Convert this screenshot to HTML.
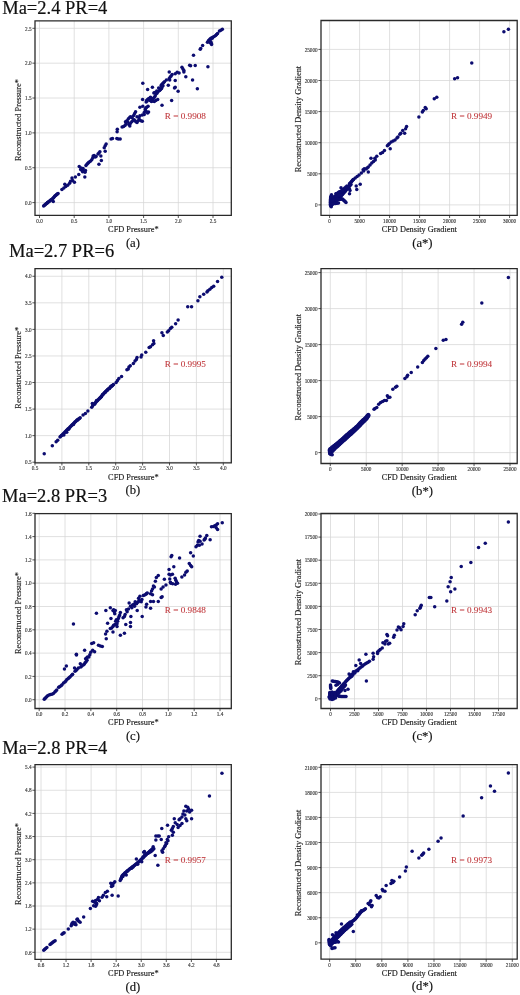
<!DOCTYPE html>
<html><head><meta charset="utf-8"><title>Reconstruction scatter plots</title>
<style>
html,body{margin:0;padding:0;background:#fff;}
body{width:520px;height:995px;overflow:hidden;}
svg{display:block;}
text{font-family:"Liberation Serif", "Times New Roman", serif;}
.tk{font-size:5.2px;fill:#333;stroke:#333;stroke-width:0.14px;}
.al{font-size:8.3px;fill:#222;stroke:#222;stroke-width:0.15px;}
.sl{font-size:12.7px;fill:#111;stroke:#111;stroke-width:0.15px;}
.rl{font-size:9.2px;fill:#c0383c;stroke:#c0383c;stroke-width:0.08px;}
.tt{font-size:18.5px;fill:#111;stroke:#111;stroke-width:0.2px;}
</style></head><body>
<svg width="520" height="995" viewBox="0 0 520 995"><rect width="520" height="995" fill="#fff"/><path d="M39.5 20.8V215.4M74.2 20.8V215.4M108.9 20.8V215.4M143.6 20.8V215.4M178.3 20.8V215.4M213 20.8V215.4M35 202.6H231.3M35 167.74H231.3M35 132.88H231.3M35 98.02H231.3M35 63.16H231.3M35 28.3H231.3M35 268.7V462.8M61.9 268.7V462.8M88.8 268.7V462.8M115.7 268.7V462.8M142.6 268.7V462.8M169.5 268.7V462.8M196.4 268.7V462.8M223.3 268.7V462.8M35 462.2H231.3M35 435.64H231.3M35 409.08H231.3M35 382.52H231.3M35 355.96H231.3M35 329.4H231.3M35 302.84H231.3M35 276.28H231.3M39.2 513.7V708.5M65.03 513.7V708.5M90.86 513.7V708.5M116.69 513.7V708.5M142.52 513.7V708.5M168.35 513.7V708.5M194.18 513.7V708.5M220.01 513.7V708.5M35 699.7H231.3M35 676.4H231.3M35 653.1H231.3M35 629.8H231.3M35 606.5H231.3M35 583.2H231.3M35 559.9H231.3M35 536.6H231.3M35 513.3H231.3M41 764.6V959.4M66.06 764.6V959.4M91.12 764.6V959.4M116.18 764.6V959.4M141.24 764.6V959.4M166.3 764.6V959.4M191.36 764.6V959.4M216.42 764.6V959.4M35 952.3H231.3M35 929.15H231.3M35 906H231.3M35 882.85H231.3M35 859.7H231.3M35 836.55H231.3M35 813.4H231.3M35 790.25H231.3M35 767.1H231.3M329.6 20.5V215.4M359.6 20.5V215.4M389.6 20.5V215.4M419.6 20.5V215.4M449.6 20.5V215.4M479.6 20.5V215.4M509.6 20.5V215.4M321 204.9H517.2M321 173.8H517.2M321 142.7H517.2M321 111.6H517.2M321 80.5H517.2M321 49.4H517.2M330.3 268.7V463.5M366.24 268.7V463.5M402.18 268.7V463.5M438.12 268.7V463.5M474.06 268.7V463.5M510 268.7V463.5M321 452.6H517.2M321 416.6H517.2M321 380.6H517.2M321 344.6H517.2M321 308.6H517.2M321 272.6H517.2M330.5 513.5V708.5M354.5 513.5V708.5M378.5 513.5V708.5M402.5 513.5V708.5M426.5 513.5V708.5M450.5 513.5V708.5M474.5 513.5V708.5M498.5 513.5V708.5M321 698.8H517.2M321 675.7H517.2M321 652.6H517.2M321 629.5H517.2M321 606.4H517.2M321 583.3H517.2M321 560.2H517.2M321 537.1H517.2M321 514H517.2M329.6 764.6V959.2M355.7 764.6V959.2M381.8 764.6V959.2M407.9 764.6V959.2M434 764.6V959.2M460.1 764.6V959.2M486.2 764.6V959.2M512.3 764.6V959.2M321 942.8H517.2M321 917.73H517.2M321 892.66H517.2M321 867.59H517.2M321 842.52H517.2M321 817.45H517.2M321 792.38H517.2M321 767.31H517.2" stroke="#d6d6d6" stroke-width="0.75" fill="none"/><g fill="#0c0c70"><circle cx="53.27" cy="201.54" r="1.75"/><circle cx="47.5" cy="202.5" r="1.75"/><circle cx="61.92" cy="189.62" r="1.75"/><circle cx="63.85" cy="188.08" r="1.75"/><circle cx="65.77" cy="186.54" r="1.75"/><circle cx="64.81" cy="184.23" r="1.75"/><circle cx="67.69" cy="185.19" r="1.75"/><circle cx="69.62" cy="183.27" r="1.75"/><circle cx="70.58" cy="181.35" r="1.75"/><circle cx="72.5" cy="180.38" r="1.75"/><circle cx="74.42" cy="182.31" r="1.75"/><circle cx="43.65" cy="205.96" r="1.75"/><circle cx="44.38" cy="205.34" r="1.75"/><circle cx="45.1" cy="204.71" r="1.75"/><circle cx="45.82" cy="204.09" r="1.75"/><circle cx="46.54" cy="203.46" r="1.75"/><circle cx="47.26" cy="202.88" r="1.75"/><circle cx="47.98" cy="202.31" r="1.75"/><circle cx="48.7" cy="201.73" r="1.75"/><circle cx="49.42" cy="201.15" r="1.75"/><circle cx="50.14" cy="200.62" r="1.75"/><circle cx="50.87" cy="200.1" r="1.75"/><circle cx="51.59" cy="199.57" r="1.75"/><circle cx="52.31" cy="199.04" r="1.75"/><circle cx="53.03" cy="198.22" r="1.75"/><circle cx="53.75" cy="197.4" r="1.75"/><circle cx="54.47" cy="196.59" r="1.75"/><circle cx="55.19" cy="195.77" r="1.75"/><circle cx="55.91" cy="195.19" r="1.75"/><circle cx="56.63" cy="194.62" r="1.75"/><circle cx="57.36" cy="194.04" r="1.75"/><circle cx="58.08" cy="193.46" r="1.75"/><circle cx="183.88" cy="71.92" r="1.75"/><circle cx="177.15" cy="72.31" r="1.75"/><circle cx="175.23" cy="73.85" r="1.75"/><circle cx="179.08" cy="72.88" r="1.75"/><circle cx="175.23" cy="80.58" r="1.75"/><circle cx="175.23" cy="87.31" r="1.75"/><circle cx="178.12" cy="91.15" r="1.75"/><circle cx="185.81" cy="76.73" r="1.75"/><circle cx="192.54" cy="80" r="1.75"/><circle cx="197.35" cy="88.65" r="1.75"/><circle cx="111.06" cy="138.94" r="1.75"/><circle cx="112.5" cy="138.46" r="1.75"/><circle cx="116.83" cy="138.46" r="1.75"/><circle cx="118.27" cy="138.94" r="1.75"/><circle cx="120.19" cy="138.94" r="1.75"/><circle cx="117.31" cy="129.33" r="1.75"/><circle cx="117.12" cy="131.73" r="1.75"/><circle cx="122.12" cy="126.92" r="1.75"/><circle cx="123.56" cy="126.44" r="1.75"/><circle cx="125" cy="125.48" r="1.75"/><circle cx="125.96" cy="124.04" r="1.75"/><circle cx="125.48" cy="121.63" r="1.75"/><circle cx="126.92" cy="120.67" r="1.75"/><circle cx="127.88" cy="122.12" r="1.75"/><circle cx="128.37" cy="118.75" r="1.75"/><circle cx="129.81" cy="117.31" r="1.75"/><circle cx="130.77" cy="116.83" r="1.75"/><circle cx="132.21" cy="117.79" r="1.75"/><circle cx="128.85" cy="124.52" r="1.75"/><circle cx="129.81" cy="125.96" r="1.75"/><circle cx="130.29" cy="123.56" r="1.75"/><circle cx="131.73" cy="121.63" r="1.75"/><circle cx="133.17" cy="120.19" r="1.75"/><circle cx="134.13" cy="119.71" r="1.75"/><circle cx="134.62" cy="120.67" r="1.75"/><circle cx="136.06" cy="121.63" r="1.75"/><circle cx="137.02" cy="122.6" r="1.75"/><circle cx="137.98" cy="120.67" r="1.75"/><circle cx="139.42" cy="119.71" r="1.75"/><circle cx="140.87" cy="120.67" r="1.75"/><circle cx="142.31" cy="121.15" r="1.75"/><circle cx="138.94" cy="117.79" r="1.75"/><circle cx="139.9" cy="115.87" r="1.75"/><circle cx="133.65" cy="115.38" r="1.75"/><circle cx="137.02" cy="116.83" r="1.75"/><circle cx="169.23" cy="71.92" r="1.75"/><circle cx="172.12" cy="74.62" r="1.75"/><circle cx="171.15" cy="76.06" r="1.75"/><circle cx="170.19" cy="77.02" r="1.75"/><circle cx="169.23" cy="78.46" r="1.75"/><circle cx="169.71" cy="79.9" r="1.75"/><circle cx="166.35" cy="79.9" r="1.75"/><circle cx="168.27" cy="85.19" r="1.75"/><circle cx="164.42" cy="81.83" r="1.75"/><circle cx="163.46" cy="82.79" r="1.75"/><circle cx="162.5" cy="83.75" r="1.75"/><circle cx="161.54" cy="84.71" r="1.75"/><circle cx="161.06" cy="85.67" r="1.75"/><circle cx="162.98" cy="85.67" r="1.75"/><circle cx="162.02" cy="87.12" r="1.75"/><circle cx="161.54" cy="88.56" r="1.75"/><circle cx="160.58" cy="89.52" r="1.75"/><circle cx="159.62" cy="90.48" r="1.75"/><circle cx="158.65" cy="88.08" r="1.75"/><circle cx="158.17" cy="91.44" r="1.75"/><circle cx="157.21" cy="92.88" r="1.75"/><circle cx="156.25" cy="93.85" r="1.75"/><circle cx="156.73" cy="90.96" r="1.75"/><circle cx="154.81" cy="92.4" r="1.75"/><circle cx="153.85" cy="92.88" r="1.75"/><circle cx="155.29" cy="95.77" r="1.75"/><circle cx="154.33" cy="97.21" r="1.75"/><circle cx="153.37" cy="98.17" r="1.75"/><circle cx="152.4" cy="99.13" r="1.75"/><circle cx="151.44" cy="99.62" r="1.75"/><circle cx="150.48" cy="97.21" r="1.75"/><circle cx="149.52" cy="98.17" r="1.75"/><circle cx="148.56" cy="98.65" r="1.75"/><circle cx="147.6" cy="99.62" r="1.75"/><circle cx="146.63" cy="100.58" r="1.75"/><circle cx="146.15" cy="102.02" r="1.75"/><circle cx="147.12" cy="101.06" r="1.75"/><circle cx="152.88" cy="101.06" r="1.75"/><circle cx="154.33" cy="101.54" r="1.75"/><circle cx="155.77" cy="100.58" r="1.75"/><circle cx="157.69" cy="99.62" r="1.75"/><circle cx="151.44" cy="101.54" r="1.75"/><circle cx="150" cy="100.58" r="1.75"/><circle cx="142.79" cy="83.27" r="1.75"/><circle cx="147.6" cy="89.52" r="1.75"/><circle cx="152.4" cy="87.31" r="1.75"/><circle cx="142.6" cy="99.42" r="1.75"/><circle cx="171.63" cy="100.38" r="1.75"/><circle cx="162.02" cy="105.19" r="1.75"/><circle cx="174.52" cy="88.08" r="1.75"/><circle cx="148.08" cy="106.35" r="1.75"/><circle cx="146.63" cy="107.31" r="1.75"/><circle cx="145.67" cy="108.27" r="1.75"/><circle cx="145.19" cy="109.71" r="1.75"/><circle cx="146.15" cy="111.15" r="1.75"/><circle cx="148.56" cy="112.12" r="1.75"/><circle cx="147.6" cy="113.08" r="1.75"/><circle cx="144.23" cy="112.6" r="1.75"/><circle cx="142.79" cy="106.35" r="1.75"/><circle cx="139.9" cy="107.31" r="1.75"/><circle cx="135.58" cy="111.63" r="1.75"/><circle cx="134.62" cy="113.56" r="1.75"/><circle cx="144.23" cy="114.52" r="1.75"/><circle cx="142.31" cy="115" r="1.75"/><circle cx="72.02" cy="178.08" r="1.75"/><circle cx="75.38" cy="176.92" r="1.75"/><circle cx="78.75" cy="174.42" r="1.75"/><circle cx="79.23" cy="166.54" r="1.75"/><circle cx="80.67" cy="169.42" r="1.75"/><circle cx="82.12" cy="170.38" r="1.75"/><circle cx="83.08" cy="168.46" r="1.75"/><circle cx="84.04" cy="171.35" r="1.75"/><circle cx="85" cy="172.31" r="1.75"/><circle cx="85.48" cy="170.38" r="1.75"/><circle cx="84.81" cy="177.12" r="1.75"/><circle cx="85.96" cy="165.58" r="1.75"/><circle cx="86.92" cy="164.13" r="1.75"/><circle cx="87.88" cy="163.17" r="1.75"/><circle cx="88.85" cy="162.21" r="1.75"/><circle cx="90.29" cy="161.25" r="1.75"/><circle cx="91.73" cy="159.81" r="1.75"/><circle cx="92.69" cy="157.88" r="1.75"/><circle cx="93.17" cy="155.96" r="1.75"/><circle cx="94.13" cy="155.48" r="1.75"/><circle cx="95.1" cy="156.92" r="1.75"/><circle cx="96.06" cy="156.44" r="1.75"/><circle cx="97.98" cy="154.04" r="1.75"/><circle cx="98.94" cy="153.08" r="1.75"/><circle cx="99.9" cy="151.63" r="1.75"/><circle cx="100.87" cy="155.96" r="1.75"/><circle cx="101.35" cy="160.58" r="1.75"/><circle cx="98.94" cy="164.13" r="1.75"/><circle cx="104.23" cy="147.79" r="1.75"/><circle cx="105.19" cy="145.87" r="1.75"/><circle cx="106.15" cy="143.94" r="1.75"/><circle cx="105.19" cy="151.15" r="1.75"/><circle cx="81.15" cy="167.98" r="1.75"/><circle cx="82.6" cy="171.83" r="1.75"/><circle cx="222.35" cy="29.17" r="1.75"/><circle cx="220.9" cy="30.13" r="1.75"/><circle cx="219.46" cy="31.1" r="1.75"/><circle cx="217.54" cy="33.5" r="1.75"/><circle cx="216.58" cy="34.46" r="1.75"/><circle cx="215.62" cy="35.42" r="1.75"/><circle cx="214.17" cy="36.38" r="1.75"/><circle cx="212.73" cy="37.35" r="1.75"/><circle cx="211.29" cy="38.12" r="1.75"/><circle cx="210.33" cy="38.79" r="1.75"/><circle cx="209.37" cy="39.75" r="1.75"/><circle cx="208.4" cy="40.71" r="1.75"/><circle cx="207.44" cy="42.15" r="1.75"/><circle cx="209.85" cy="40.71" r="1.75"/><circle cx="210.81" cy="41.67" r="1.75"/><circle cx="211.29" cy="43.31" r="1.75"/><circle cx="211.58" cy="44.56" r="1.75"/><circle cx="210.33" cy="42.63" r="1.75"/><circle cx="212.25" cy="38.31" r="1.75"/><circle cx="208.88" cy="41.67" r="1.75"/><circle cx="202.63" cy="45.52" r="1.75"/><circle cx="200.71" cy="48.4" r="1.75"/><circle cx="200.23" cy="49.37" r="1.75"/><circle cx="193.5" cy="55.13" r="1.75"/><circle cx="189.65" cy="65.23" r="1.75"/><circle cx="190.62" cy="65.71" r="1.75"/><circle cx="195.23" cy="65.52" r="1.75"/><circle cx="207.92" cy="66.67" r="1.75"/><circle cx="181.96" cy="67.15" r="1.75"/><circle cx="182.92" cy="69.08" r="1.75"/><circle cx="183.88" cy="70.52" r="1.75"/><circle cx="44.23" cy="453.77" r="1.75"/><circle cx="52.31" cy="445.69" r="1.75"/><circle cx="56.15" cy="441.85" r="1.75"/><circle cx="57.69" cy="440.31" r="1.75"/><circle cx="63.85" cy="435.12" r="1.75"/><circle cx="68.65" cy="429.35" r="1.75"/><circle cx="73.46" cy="424.54" r="1.75"/><circle cx="77.31" cy="420.31" r="1.75"/><circle cx="66.73" cy="432.23" r="1.75"/><circle cx="83.08" cy="414.92" r="1.75"/><circle cx="85.38" cy="413.38" r="1.75"/><circle cx="87.88" cy="411.08" r="1.75"/><circle cx="91.73" cy="407.23" r="1.75"/><circle cx="92.69" cy="405.69" r="1.75"/><circle cx="92.31" cy="403.38" r="1.75"/><circle cx="94.62" cy="404.35" r="1.75"/><circle cx="96.54" cy="400.5" r="1.75"/><circle cx="60" cy="437.04" r="1.75"/><circle cx="60.72" cy="436.32" r="1.75"/><circle cx="61.44" cy="435.6" r="1.75"/><circle cx="62.16" cy="434.88" r="1.75"/><circle cx="62.88" cy="434.15" r="1.75"/><circle cx="63.61" cy="433.43" r="1.75"/><circle cx="64.33" cy="432.71" r="1.75"/><circle cx="65.05" cy="431.99" r="1.75"/><circle cx="65.77" cy="431.27" r="1.75"/><circle cx="66.49" cy="430.55" r="1.75"/><circle cx="67.21" cy="429.83" r="1.75"/><circle cx="67.93" cy="429.11" r="1.75"/><circle cx="68.65" cy="428.38" r="1.75"/><circle cx="69.38" cy="427.66" r="1.75"/><circle cx="70.1" cy="426.94" r="1.75"/><circle cx="70.82" cy="426.22" r="1.75"/><circle cx="71.54" cy="425.5" r="1.75"/><circle cx="72.23" cy="424.81" r="1.75"/><circle cx="72.91" cy="424.13" r="1.75"/><circle cx="73.6" cy="423.44" r="1.75"/><circle cx="74.29" cy="422.75" r="1.75"/><circle cx="74.97" cy="422.07" r="1.75"/><circle cx="75.66" cy="421.38" r="1.75"/><circle cx="76.35" cy="420.69" r="1.75"/><circle cx="77.12" cy="420.12" r="1.75"/><circle cx="77.88" cy="419.54" r="1.75"/><circle cx="78.65" cy="418.96" r="1.75"/><circle cx="79.42" cy="418.38" r="1.75"/><circle cx="80.19" cy="417.81" r="1.75"/><circle cx="94.62" cy="403.38" r="1.75"/><circle cx="95.34" cy="402.66" r="1.75"/><circle cx="96.06" cy="401.94" r="1.75"/><circle cx="96.78" cy="401.22" r="1.75"/><circle cx="97.5" cy="400.5" r="1.75"/><circle cx="98.22" cy="399.78" r="1.75"/><circle cx="98.94" cy="399.06" r="1.75"/><circle cx="99.66" cy="398.34" r="1.75"/><circle cx="221.77" cy="277.23" r="1.75"/><circle cx="217.54" cy="281.46" r="1.75"/><circle cx="213.69" cy="286.27" r="1.75"/><circle cx="211.77" cy="287.62" r="1.75"/><circle cx="209.85" cy="289.15" r="1.75"/><circle cx="207.92" cy="290.69" r="1.75"/><circle cx="206.96" cy="292.04" r="1.75"/><circle cx="203.69" cy="294.35" r="1.75"/><circle cx="199.85" cy="296.85" r="1.75"/><circle cx="197.92" cy="300.69" r="1.75"/><circle cx="187.73" cy="306.85" r="1.75"/><circle cx="191.58" cy="306.85" r="1.75"/><circle cx="178.12" cy="319.92" r="1.75"/><circle cx="175.62" cy="323.77" r="1.75"/><circle cx="171.77" cy="327.23" r="1.75"/><circle cx="170.42" cy="328.58" r="1.75"/><circle cx="161.92" cy="332.69" r="1.75"/><circle cx="163.27" cy="335.38" r="1.75"/><circle cx="167.31" cy="332.02" r="1.75"/><circle cx="168.65" cy="330.67" r="1.75"/><circle cx="153.58" cy="340.77" r="1.75"/><circle cx="153.85" cy="343.46" r="1.75"/><circle cx="152.5" cy="344.81" r="1.75"/><circle cx="150.48" cy="346.83" r="1.75"/><circle cx="149.13" cy="347.5" r="1.75"/><circle cx="145.77" cy="352.21" r="1.75"/><circle cx="141.73" cy="354.9" r="1.75"/><circle cx="141.06" cy="356.92" r="1.75"/><circle cx="137.02" cy="357.6" r="1.75"/><circle cx="136.35" cy="359.62" r="1.75"/><circle cx="135" cy="360.96" r="1.75"/><circle cx="133.38" cy="363.38" r="1.75"/><circle cx="130.29" cy="365.67" r="1.75"/><circle cx="128.94" cy="367.02" r="1.75"/><circle cx="128.27" cy="369.04" r="1.75"/><circle cx="126.92" cy="369.71" r="1.75"/><circle cx="121.54" cy="376.44" r="1.75"/><circle cx="118.85" cy="378.46" r="1.75"/><circle cx="117.5" cy="380.48" r="1.75"/><circle cx="116.15" cy="382.5" r="1.75"/><circle cx="112.12" cy="385.87" r="1.75"/><circle cx="110.77" cy="386.54" r="1.75"/><circle cx="109.42" cy="388.56" r="1.75"/><circle cx="107.4" cy="389.9" r="1.75"/><circle cx="105.38" cy="391.92" r="1.75"/><circle cx="102.69" cy="394.62" r="1.75"/><circle cx="101.35" cy="396.63" r="1.75"/><circle cx="113.46" cy="384.52" r="1.75"/><circle cx="112.69" cy="385.19" r="1.75"/><circle cx="111.92" cy="385.87" r="1.75"/><circle cx="111.15" cy="386.54" r="1.75"/><circle cx="110.38" cy="387.21" r="1.75"/><circle cx="109.62" cy="387.88" r="1.75"/><circle cx="108.85" cy="388.56" r="1.75"/><circle cx="108.08" cy="389.23" r="1.75"/><circle cx="107.4" cy="389.9" r="1.75"/><circle cx="106.73" cy="390.58" r="1.75"/><circle cx="106.06" cy="391.25" r="1.75"/><circle cx="105.38" cy="391.92" r="1.75"/><circle cx="104.71" cy="392.6" r="1.75"/><circle cx="104.04" cy="393.27" r="1.75"/><circle cx="103.37" cy="394.05" r="1.75"/><circle cx="102.69" cy="394.84" r="1.75"/><circle cx="102.02" cy="395.62" r="1.75"/><circle cx="101.35" cy="396.41" r="1.75"/><circle cx="100.67" cy="397.2" r="1.75"/><circle cx="100" cy="397.98" r="1.75"/><circle cx="88.85" cy="657.08" r="1.75"/><circle cx="89.81" cy="654.77" r="1.75"/><circle cx="90.77" cy="652.27" r="1.75"/><circle cx="92.69" cy="650.35" r="1.75"/><circle cx="94.62" cy="651.69" r="1.75"/><circle cx="91.73" cy="643.62" r="1.75"/><circle cx="93.65" cy="642.65" r="1.75"/><circle cx="98.46" cy="645.15" r="1.75"/><circle cx="100.38" cy="645.92" r="1.75"/><circle cx="102.31" cy="646.5" r="1.75"/><circle cx="84.62" cy="650.35" r="1.75"/><circle cx="76.35" cy="654.19" r="1.75"/><circle cx="73.46" cy="624" r="1.75"/><circle cx="177.5" cy="583.19" r="1.75"/><circle cx="175.58" cy="584.15" r="1.75"/><circle cx="172.69" cy="583.77" r="1.75"/><circle cx="170.77" cy="583.19" r="1.75"/><circle cx="165.96" cy="585.12" r="1.75"/><circle cx="163.08" cy="587.04" r="1.75"/><circle cx="161.15" cy="588.96" r="1.75"/><circle cx="158.27" cy="575.5" r="1.75"/><circle cx="156.35" cy="577.42" r="1.75"/><circle cx="155.38" cy="581.27" r="1.75"/><circle cx="153.46" cy="586.08" r="1.75"/><circle cx="152.5" cy="588.96" r="1.75"/><circle cx="154.42" cy="587.04" r="1.75"/><circle cx="151.54" cy="590.88" r="1.75"/><circle cx="150.58" cy="593.77" r="1.75"/><circle cx="152.5" cy="594.73" r="1.75"/><circle cx="150.58" cy="601.46" r="1.75"/><circle cx="150.58" cy="608.19" r="1.75"/><circle cx="153.46" cy="601.46" r="1.75"/><circle cx="161.15" cy="597.62" r="1.75"/><circle cx="162.12" cy="596.65" r="1.75"/><circle cx="158.27" cy="601.46" r="1.75"/><circle cx="96.42" cy="613.35" r="1.75"/><circle cx="105.85" cy="610.38" r="1.75"/><circle cx="110.29" cy="607.69" r="1.75"/><circle cx="113.65" cy="609.71" r="1.75"/><circle cx="114.33" cy="611.73" r="1.75"/><circle cx="114.73" cy="613.75" r="1.75"/><circle cx="112.98" cy="610.38" r="1.75"/><circle cx="115.27" cy="610.38" r="1.75"/><circle cx="120.38" cy="612.4" r="1.75"/><circle cx="119.71" cy="615.1" r="1.75"/><circle cx="119.04" cy="616.44" r="1.75"/><circle cx="118.37" cy="618.46" r="1.75"/><circle cx="116.35" cy="619.81" r="1.75"/><circle cx="115.67" cy="621.15" r="1.75"/><circle cx="117.69" cy="621.15" r="1.75"/><circle cx="117.02" cy="623.85" r="1.75"/><circle cx="115" cy="624.52" r="1.75"/><circle cx="113.65" cy="625.19" r="1.75"/><circle cx="112.98" cy="626.54" r="1.75"/><circle cx="111.63" cy="627.88" r="1.75"/><circle cx="110.29" cy="628.56" r="1.75"/><circle cx="110.96" cy="618.46" r="1.75"/><circle cx="107.6" cy="623.17" r="1.75"/><circle cx="106.92" cy="631.25" r="1.75"/><circle cx="105.58" cy="633.94" r="1.75"/><circle cx="106.25" cy="638.65" r="1.75"/><circle cx="112.98" cy="631.92" r="1.75"/><circle cx="120.38" cy="635.29" r="1.75"/><circle cx="124.42" cy="633.27" r="1.75"/><circle cx="125.77" cy="624.52" r="1.75"/><circle cx="130.48" cy="626.54" r="1.75"/><circle cx="130.48" cy="622.5" r="1.75"/><circle cx="130.88" cy="616.44" r="1.75"/><circle cx="123.08" cy="617.79" r="1.75"/><circle cx="124.42" cy="616.44" r="1.75"/><circle cx="125.1" cy="614.42" r="1.75"/><circle cx="127.12" cy="611.73" r="1.75"/><circle cx="126.44" cy="609.71" r="1.75"/><circle cx="128.46" cy="609.04" r="1.75"/><circle cx="129.13" cy="602.98" r="1.75"/><circle cx="130.48" cy="606.35" r="1.75"/><circle cx="131.83" cy="607.69" r="1.75"/><circle cx="132.5" cy="605" r="1.75"/><circle cx="133.85" cy="604.33" r="1.75"/><circle cx="135.19" cy="601.63" r="1.75"/><circle cx="134.52" cy="606.35" r="1.75"/><circle cx="135.87" cy="602.98" r="1.75"/><circle cx="137.21" cy="610.38" r="1.75"/><circle cx="136.54" cy="603.65" r="1.75"/><circle cx="137.88" cy="602.31" r="1.75"/><circle cx="139.23" cy="600.29" r="1.75"/><circle cx="138.56" cy="598.27" r="1.75"/><circle cx="139.9" cy="596.25" r="1.75"/><circle cx="139.23" cy="600.96" r="1.75"/><circle cx="141.25" cy="601.63" r="1.75"/><circle cx="141.92" cy="599.62" r="1.75"/><circle cx="142.19" cy="616.44" r="1.75"/><circle cx="143.27" cy="595.58" r="1.75"/><circle cx="144.62" cy="594.9" r="1.75"/><circle cx="145.96" cy="594.23" r="1.75"/><circle cx="146.63" cy="593.56" r="1.75"/><circle cx="147.31" cy="592.88" r="1.75"/><circle cx="146.63" cy="604.33" r="1.75"/><circle cx="145.96" cy="607.02" r="1.75"/><circle cx="117.02" cy="626.54" r="1.75"/><circle cx="222.25" cy="522.69" r="1.75"/><circle cx="217.54" cy="523.77" r="1.75"/><circle cx="216.19" cy="525.12" r="1.75"/><circle cx="214.85" cy="525.79" r="1.75"/><circle cx="213.5" cy="526.46" r="1.75"/><circle cx="211.48" cy="526.73" r="1.75"/><circle cx="216.19" cy="527.81" r="1.75"/><circle cx="217.54" cy="529.42" r="1.75"/><circle cx="200.04" cy="536.15" r="1.75"/><circle cx="198.69" cy="540.6" r="1.75"/><circle cx="200.04" cy="541.27" r="1.75"/><circle cx="198.02" cy="541.94" r="1.75"/><circle cx="197.35" cy="545.31" r="1.75"/><circle cx="196" cy="546.65" r="1.75"/><circle cx="199.37" cy="545.31" r="1.75"/><circle cx="202.06" cy="543.96" r="1.75"/><circle cx="204.75" cy="539.25" r="1.75"/><circle cx="205.42" cy="537.9" r="1.75"/><circle cx="206.77" cy="535.62" r="1.75"/><circle cx="210.13" cy="539.65" r="1.75"/><circle cx="204.08" cy="539.92" r="1.75"/><circle cx="190.62" cy="552.71" r="1.75"/><circle cx="193.31" cy="556.08" r="1.75"/><circle cx="179.58" cy="558.1" r="1.75"/><circle cx="171.1" cy="556.75" r="1.75"/><circle cx="171.77" cy="555.4" r="1.75"/><circle cx="189.27" cy="563.48" r="1.75"/><circle cx="190.62" cy="565.5" r="1.75"/><circle cx="191.69" cy="566.85" r="1.75"/><circle cx="187.25" cy="570.88" r="1.75"/><circle cx="185.9" cy="572.23" r="1.75"/><circle cx="184.56" cy="574.92" r="1.75"/><circle cx="181.87" cy="576.94" r="1.75"/><circle cx="173.79" cy="566.85" r="1.75"/><circle cx="169.08" cy="569.54" r="1.75"/><circle cx="169.08" cy="574.25" r="1.75"/><circle cx="170.42" cy="574.92" r="1.75"/><circle cx="172.44" cy="574.25" r="1.75"/><circle cx="169.75" cy="578.96" r="1.75"/><circle cx="164.37" cy="579.23" r="1.75"/><circle cx="175.13" cy="578.29" r="1.75"/><circle cx="175.81" cy="580.31" r="1.75"/><circle cx="176.48" cy="581.92" r="1.75"/><circle cx="170.42" cy="582.33" r="1.75"/><circle cx="44.25" cy="699.23" r="1.75"/><circle cx="44.92" cy="698.46" r="1.75"/><circle cx="45.69" cy="697.79" r="1.75"/><circle cx="46.65" cy="696.83" r="1.75"/><circle cx="47.62" cy="695.87" r="1.75"/><circle cx="49.06" cy="694.9" r="1.75"/><circle cx="50.5" cy="694.42" r="1.75"/><circle cx="51.94" cy="694.23" r="1.75"/><circle cx="53.38" cy="693.46" r="1.75"/><circle cx="54.83" cy="692.02" r="1.75"/><circle cx="55.79" cy="691.06" r="1.75"/><circle cx="56.75" cy="690.1" r="1.75"/><circle cx="58.67" cy="687.21" r="1.75"/><circle cx="59.63" cy="686.73" r="1.75"/><circle cx="61.08" cy="685.77" r="1.75"/><circle cx="62.04" cy="684.81" r="1.75"/><circle cx="63.48" cy="682.88" r="1.75"/><circle cx="64.92" cy="681.92" r="1.75"/><circle cx="65.88" cy="680.96" r="1.75"/><circle cx="66.85" cy="679.52" r="1.75"/><circle cx="68.29" cy="678.56" r="1.75"/><circle cx="69.25" cy="677.6" r="1.75"/><circle cx="70.21" cy="676.63" r="1.75"/><circle cx="71.65" cy="675.19" r="1.75"/><circle cx="72.62" cy="674.23" r="1.75"/><circle cx="64.44" cy="668.94" r="1.75"/><circle cx="66.37" cy="666.06" r="1.75"/><circle cx="74.54" cy="667.98" r="1.75"/><circle cx="75.02" cy="671.35" r="1.75"/><circle cx="75.98" cy="670.38" r="1.75"/><circle cx="76.94" cy="669.42" r="1.75"/><circle cx="78.38" cy="667.98" r="1.75"/><circle cx="80.31" cy="663.65" r="1.75"/><circle cx="80.79" cy="667.02" r="1.75"/><circle cx="81.75" cy="666.06" r="1.75"/><circle cx="83.19" cy="665.1" r="1.75"/><circle cx="84.15" cy="664.13" r="1.75"/><circle cx="85.12" cy="662.69" r="1.75"/><circle cx="86.08" cy="661.73" r="1.75"/><circle cx="87.04" cy="660.29" r="1.75"/><circle cx="85.6" cy="658.85" r="1.75"/><circle cx="86.56" cy="657.88" r="1.75"/><circle cx="87.52" cy="656.92" r="1.75"/><circle cx="76.46" cy="655" r="1.75"/><circle cx="90.38" cy="908.46" r="1.75"/><circle cx="92.69" cy="901.35" r="1.75"/><circle cx="94.62" cy="902.31" r="1.75"/><circle cx="95.58" cy="900.38" r="1.75"/><circle cx="96.54" cy="903.27" r="1.75"/><circle cx="97.5" cy="899.42" r="1.75"/><circle cx="98.46" cy="897.5" r="1.75"/><circle cx="99.42" cy="900.77" r="1.75"/><circle cx="95.58" cy="906.15" r="1.75"/><circle cx="96.54" cy="904.62" r="1.75"/><circle cx="93.65" cy="905.77" r="1.75"/><circle cx="221.96" cy="773.23" r="1.75"/><circle cx="209.46" cy="796.12" r="1.75"/><circle cx="185.81" cy="806.31" r="1.75"/><circle cx="187.73" cy="807.27" r="1.75"/><circle cx="188.69" cy="809.19" r="1.75"/><circle cx="186.77" cy="811.12" r="1.75"/><circle cx="191.58" cy="810.15" r="1.75"/><circle cx="189.65" cy="812.08" r="1.75"/><circle cx="183.88" cy="811.12" r="1.75"/><circle cx="182.92" cy="814" r="1.75"/><circle cx="184.85" cy="814.96" r="1.75"/><circle cx="181.96" cy="816.88" r="1.75"/><circle cx="180.04" cy="818.81" r="1.75"/><circle cx="179.08" cy="819.77" r="1.75"/><circle cx="185.81" cy="818.81" r="1.75"/><circle cx="186.77" cy="820.73" r="1.75"/><circle cx="191.58" cy="818.81" r="1.75"/><circle cx="181.96" cy="823.62" r="1.75"/><circle cx="180.04" cy="825.54" r="1.75"/><circle cx="178.12" cy="827.46" r="1.75"/><circle cx="177.15" cy="824.58" r="1.75"/><circle cx="174.27" cy="818.81" r="1.75"/><circle cx="175.23" cy="822.65" r="1.75"/><circle cx="173.31" cy="826.5" r="1.75"/><circle cx="172.35" cy="828.42" r="1.75"/><circle cx="171.38" cy="830.35" r="1.75"/><circle cx="173.31" cy="832.27" r="1.75"/><circle cx="172.35" cy="835.15" r="1.75"/><circle cx="161.77" cy="828.42" r="1.75"/><circle cx="167.54" cy="825.15" r="1.75"/><circle cx="155.87" cy="836.06" r="1.75"/><circle cx="157.88" cy="836.06" r="1.75"/><circle cx="159.23" cy="836.06" r="1.75"/><circle cx="155.87" cy="840.1" r="1.75"/><circle cx="161.25" cy="839.42" r="1.75"/><circle cx="168.65" cy="836.73" r="1.75"/><circle cx="167.98" cy="840.77" r="1.75"/><circle cx="166.63" cy="843.46" r="1.75"/><circle cx="165.29" cy="845.48" r="1.75"/><circle cx="164.62" cy="846.83" r="1.75"/><circle cx="163.27" cy="848.85" r="1.75"/><circle cx="161.92" cy="850.87" r="1.75"/><circle cx="162.6" cy="852.21" r="1.75"/><circle cx="165.96" cy="842.79" r="1.75"/><circle cx="167.31" cy="839.42" r="1.75"/><circle cx="153.17" cy="846.83" r="1.75"/><circle cx="153.85" cy="848.85" r="1.75"/><circle cx="152.5" cy="850.19" r="1.75"/><circle cx="151.15" cy="851.54" r="1.75"/><circle cx="149.81" cy="852.21" r="1.75"/><circle cx="148.46" cy="852.88" r="1.75"/><circle cx="147.12" cy="853.56" r="1.75"/><circle cx="145.77" cy="854.23" r="1.75"/><circle cx="144.42" cy="855.58" r="1.75"/><circle cx="143.08" cy="856.92" r="1.75"/><circle cx="143.75" cy="852.21" r="1.75"/><circle cx="144.42" cy="851.54" r="1.75"/><circle cx="155.19" cy="855.58" r="1.75"/><circle cx="157.88" cy="865.27" r="1.75"/><circle cx="136.35" cy="858.94" r="1.75"/><circle cx="141.73" cy="861.63" r="1.75"/><circle cx="137.69" cy="864.33" r="1.75"/><circle cx="132.98" cy="867.02" r="1.75"/><circle cx="131.63" cy="868.37" r="1.75"/><circle cx="127.6" cy="871.06" r="1.75"/><circle cx="124.23" cy="874.42" r="1.75"/><circle cx="126.25" cy="875.1" r="1.75"/><circle cx="120.19" cy="880.48" r="1.75"/><circle cx="122.88" cy="876.44" r="1.75"/><circle cx="114.81" cy="881.83" r="1.75"/><circle cx="113.46" cy="883.17" r="1.75"/><circle cx="112.12" cy="884.52" r="1.75"/><circle cx="111.44" cy="886.54" r="1.75"/><circle cx="112.79" cy="885.87" r="1.75"/><circle cx="110.77" cy="883.17" r="1.75"/><circle cx="107.4" cy="891.25" r="1.75"/><circle cx="105.38" cy="892.6" r="1.75"/><circle cx="103.37" cy="895.29" r="1.75"/><circle cx="102.02" cy="897.31" r="1.75"/><circle cx="106.73" cy="896.63" r="1.75"/><circle cx="112.12" cy="895.29" r="1.75"/><circle cx="118.17" cy="895.96" r="1.75"/><circle cx="152.5" cy="848.85" r="1.75"/><circle cx="151.75" cy="849.52" r="1.75"/><circle cx="151" cy="850.19" r="1.75"/><circle cx="150.26" cy="850.87" r="1.75"/><circle cx="149.51" cy="851.54" r="1.75"/><circle cx="148.76" cy="852.21" r="1.75"/><circle cx="148.01" cy="852.88" r="1.75"/><circle cx="147.26" cy="853.56" r="1.75"/><circle cx="146.52" cy="854.23" r="1.75"/><circle cx="145.77" cy="854.9" r="1.75"/><circle cx="145.1" cy="855.58" r="1.75"/><circle cx="144.42" cy="856.25" r="1.75"/><circle cx="143.75" cy="856.92" r="1.75"/><circle cx="143.08" cy="857.6" r="1.75"/><circle cx="142.4" cy="858.27" r="1.75"/><circle cx="141.73" cy="858.94" r="1.75"/><circle cx="141.06" cy="859.62" r="1.75"/><circle cx="140.38" cy="860.29" r="1.75"/><circle cx="139.62" cy="860.96" r="1.75"/><circle cx="138.85" cy="861.63" r="1.75"/><circle cx="138.08" cy="862.31" r="1.75"/><circle cx="137.31" cy="862.98" r="1.75"/><circle cx="136.54" cy="863.65" r="1.75"/><circle cx="135.77" cy="864.33" r="1.75"/><circle cx="135" cy="865" r="1.75"/><circle cx="134.23" cy="865.58" r="1.75"/><circle cx="133.46" cy="866.15" r="1.75"/><circle cx="132.69" cy="866.73" r="1.75"/><circle cx="131.92" cy="867.31" r="1.75"/><circle cx="131.15" cy="867.88" r="1.75"/><circle cx="130.38" cy="868.46" r="1.75"/><circle cx="129.62" cy="869.04" r="1.75"/><circle cx="128.81" cy="869.71" r="1.75"/><circle cx="128" cy="870.38" r="1.75"/><circle cx="127.19" cy="871.06" r="1.75"/><circle cx="126.38" cy="871.73" r="1.75"/><circle cx="125.58" cy="872.4" r="1.75"/><circle cx="124.9" cy="873.08" r="1.75"/><circle cx="124.23" cy="873.75" r="1.75"/><circle cx="123.56" cy="874.42" r="1.75"/><circle cx="122.88" cy="875.1" r="1.75"/><circle cx="122.21" cy="875.77" r="1.75"/><circle cx="121.88" cy="876.61" r="1.75"/><circle cx="121.54" cy="877.45" r="1.75"/><circle cx="121.2" cy="878.29" r="1.75"/><circle cx="120.87" cy="879.13" r="1.75"/><circle cx="43.77" cy="950.19" r="1.75"/><circle cx="44.73" cy="949.23" r="1.75"/><circle cx="45.69" cy="948.46" r="1.75"/><circle cx="46.85" cy="947.5" r="1.75"/><circle cx="50.02" cy="944.42" r="1.75"/><circle cx="50.98" cy="943.65" r="1.75"/><circle cx="51.94" cy="942.98" r="1.75"/><circle cx="52.9" cy="942.31" r="1.75"/><circle cx="53.87" cy="941.54" r="1.75"/><circle cx="55.12" cy="940.77" r="1.75"/><circle cx="62.04" cy="934.33" r="1.75"/><circle cx="63.19" cy="933.37" r="1.75"/><circle cx="64.15" cy="932.69" r="1.75"/><circle cx="68.29" cy="929.04" r="1.75"/><circle cx="71.17" cy="925.67" r="1.75"/><circle cx="71.65" cy="924.71" r="1.75"/><circle cx="72.13" cy="923.27" r="1.75"/><circle cx="73.1" cy="922.31" r="1.75"/><circle cx="74.54" cy="924.23" r="1.75"/><circle cx="75.98" cy="924.71" r="1.75"/><circle cx="75.02" cy="922.79" r="1.75"/><circle cx="76.94" cy="919.42" r="1.75"/><circle cx="77.9" cy="920.38" r="1.75"/><circle cx="78.87" cy="921.35" r="1.75"/><circle cx="80.12" cy="922.31" r="1.75"/><circle cx="77.42" cy="918.94" r="1.75"/><circle cx="83.67" cy="917.02" r="1.75"/><circle cx="406.58" cy="126.54" r="1.75"/><circle cx="405.62" cy="128.85" r="1.75"/><circle cx="404.65" cy="133.27" r="1.75"/><circle cx="402.73" cy="130.38" r="1.75"/><circle cx="400.81" cy="133.27" r="1.75"/><circle cx="399.85" cy="134.23" r="1.75"/><circle cx="397.92" cy="137.12" r="1.75"/><circle cx="396.96" cy="138.08" r="1.75"/><circle cx="395.04" cy="140" r="1.75"/><circle cx="393.12" cy="140.96" r="1.75"/><circle cx="391.19" cy="141.92" r="1.75"/><circle cx="389.27" cy="143.85" r="1.75"/><circle cx="387.35" cy="145.77" r="1.75"/><circle cx="388.31" cy="144.81" r="1.75"/><circle cx="390.23" cy="148.65" r="1.75"/><circle cx="384.46" cy="150.58" r="1.75"/><circle cx="382.54" cy="152.5" r="1.75"/><circle cx="380.62" cy="153.46" r="1.75"/><circle cx="376.77" cy="156.35" r="1.75"/><circle cx="374.85" cy="158.27" r="1.75"/><circle cx="371" cy="158.27" r="1.75"/><circle cx="368.31" cy="172.12" r="1.75"/><circle cx="367.15" cy="168.08" r="1.75"/><circle cx="360.23" cy="184.23" r="1.75"/><circle cx="356.19" cy="185.96" r="1.75"/><circle cx="356.77" cy="189.42" r="1.75"/><circle cx="363.12" cy="169.81" r="1.75"/><circle cx="364.27" cy="168.65" r="1.75"/><circle cx="349.46" cy="183.85" r="1.75"/><circle cx="350.1" cy="183.14" r="1.75"/><circle cx="350.74" cy="182.44" r="1.75"/><circle cx="351.38" cy="181.73" r="1.75"/><circle cx="352.03" cy="181.03" r="1.75"/><circle cx="352.67" cy="180.32" r="1.75"/><circle cx="353.31" cy="179.62" r="1.75"/><circle cx="353.31" cy="179.62" r="1.75"/><circle cx="355.23" cy="178.08" r="1.75"/><circle cx="357.15" cy="176.54" r="1.75"/><circle cx="359.08" cy="175" r="1.75"/><circle cx="361.38" cy="172.98" r="1.75"/><circle cx="363.69" cy="170.96" r="1.75"/><circle cx="366" cy="168.94" r="1.75"/><circle cx="368.31" cy="166.92" r="1.75"/><circle cx="370.04" cy="164.9" r="1.75"/><circle cx="371.77" cy="162.88" r="1.75"/><circle cx="373.5" cy="161.44" r="1.75"/><circle cx="375.23" cy="160" r="1.75"/><circle cx="471.77" cy="63.08" r="1.75"/><circle cx="454.65" cy="78.65" r="1.75"/><circle cx="457.54" cy="77.69" r="1.75"/><circle cx="434.27" cy="98.85" r="1.75"/><circle cx="436.77" cy="97.31" r="1.75"/><circle cx="425.23" cy="107.5" r="1.75"/><circle cx="423.31" cy="110.38" r="1.75"/><circle cx="426.19" cy="108.85" r="1.75"/><circle cx="422.35" cy="111.92" r="1.75"/><circle cx="418.88" cy="117.12" r="1.75"/><circle cx="503.9" cy="31.8" r="1.75"/><circle cx="508.4" cy="29.3" r="1.75"/><circle cx="341" cy="187.75" r="1.75"/><circle cx="336" cy="193.75" r="1.75"/><circle cx="331.5" cy="194.75" r="1.75"/><circle cx="349.5" cy="193.75" r="1.75"/><circle cx="339" cy="192" r="1.75"/><circle cx="330.75" cy="196.5" r="1.75"/><circle cx="330.71" cy="197.44" r="1.75"/><circle cx="330.67" cy="198.39" r="1.75"/><circle cx="330.63" cy="199.33" r="1.75"/><circle cx="330.59" cy="200.28" r="1.75"/><circle cx="330.56" cy="201.22" r="1.75"/><circle cx="330.52" cy="202.17" r="1.75"/><circle cx="330.48" cy="203.11" r="1.75"/><circle cx="330.44" cy="204.06" r="1.75"/><circle cx="330.4" cy="205" r="1.75"/><circle cx="330.82" cy="205.88" r="1.75"/><circle cx="331.25" cy="206.75" r="1.75"/><circle cx="331" cy="205.5" r="1.75"/><circle cx="331.71" cy="204.86" r="1.75"/><circle cx="332.43" cy="204.21" r="1.75"/><circle cx="333.14" cy="203.57" r="1.75"/><circle cx="333.86" cy="202.93" r="1.75"/><circle cx="334.57" cy="202.29" r="1.75"/><circle cx="335.29" cy="201.64" r="1.75"/><circle cx="336" cy="201" r="1.75"/><circle cx="336.71" cy="200.29" r="1.75"/><circle cx="337.43" cy="199.57" r="1.75"/><circle cx="338.14" cy="198.86" r="1.75"/><circle cx="338.86" cy="198.14" r="1.75"/><circle cx="339.57" cy="197.43" r="1.75"/><circle cx="340.29" cy="196.71" r="1.75"/><circle cx="341" cy="196" r="1.75"/><circle cx="341.67" cy="195.25" r="1.75"/><circle cx="342.33" cy="194.5" r="1.75"/><circle cx="343" cy="193.75" r="1.75"/><circle cx="343.67" cy="193" r="1.75"/><circle cx="344.33" cy="192.25" r="1.75"/><circle cx="345" cy="191.5" r="1.75"/><circle cx="345.58" cy="190.75" r="1.75"/><circle cx="346.17" cy="190" r="1.75"/><circle cx="346.75" cy="189.25" r="1.75"/><circle cx="347.33" cy="188.5" r="1.75"/><circle cx="347.92" cy="187.75" r="1.75"/><circle cx="348.5" cy="187" r="1.75"/><circle cx="349.12" cy="186.38" r="1.75"/><circle cx="349.75" cy="185.75" r="1.75"/><circle cx="350.38" cy="185.12" r="1.75"/><circle cx="351" cy="184.5" r="1.75"/><circle cx="333.5" cy="199" r="1.75"/><circle cx="334.5" cy="198" r="1.75"/><circle cx="335.5" cy="197" r="1.75"/><circle cx="336.5" cy="196" r="1.75"/><circle cx="337.5" cy="195" r="1.75"/><circle cx="338.5" cy="194" r="1.75"/><circle cx="339.5" cy="193" r="1.75"/><circle cx="340.5" cy="192" r="1.75"/><circle cx="341.5" cy="191" r="1.75"/><circle cx="342.5" cy="190" r="1.75"/><circle cx="343.62" cy="189" r="1.75"/><circle cx="344.75" cy="188" r="1.75"/><circle cx="345.88" cy="187" r="1.75"/><circle cx="347" cy="186" r="1.75"/><circle cx="336" cy="194" r="1.75"/><circle cx="336.93" cy="193.5" r="1.75"/><circle cx="337.86" cy="193" r="1.75"/><circle cx="338.79" cy="192.5" r="1.75"/><circle cx="339.71" cy="192" r="1.75"/><circle cx="340.64" cy="191.5" r="1.75"/><circle cx="341.57" cy="191" r="1.75"/><circle cx="342.5" cy="190.5" r="1.75"/><circle cx="333.5" cy="197" r="1.75"/><circle cx="334.44" cy="196.75" r="1.75"/><circle cx="335.38" cy="196.5" r="1.75"/><circle cx="336.31" cy="196.25" r="1.75"/><circle cx="337.25" cy="196" r="1.75"/><circle cx="338.19" cy="195.75" r="1.75"/><circle cx="339.12" cy="195.5" r="1.75"/><circle cx="340.06" cy="195.25" r="1.75"/><circle cx="341" cy="195" r="1.75"/><circle cx="331" cy="200.5" r="1.75"/><circle cx="331.96" cy="200.38" r="1.75"/><circle cx="332.92" cy="200.25" r="1.75"/><circle cx="333.88" cy="200.12" r="1.75"/><circle cx="334.83" cy="200" r="1.75"/><circle cx="335.79" cy="199.88" r="1.75"/><circle cx="336.75" cy="199.75" r="1.75"/><circle cx="337.71" cy="199.62" r="1.75"/><circle cx="338.67" cy="199.5" r="1.75"/><circle cx="339.62" cy="199.38" r="1.75"/><circle cx="340.58" cy="199.25" r="1.75"/><circle cx="341.54" cy="199.12" r="1.75"/><circle cx="342.5" cy="199" r="1.75"/><circle cx="343.2" cy="199.7" r="1.75"/><circle cx="343.9" cy="200.4" r="1.75"/><circle cx="344.6" cy="201.1" r="1.75"/><circle cx="345.3" cy="201.8" r="1.75"/><circle cx="346" cy="202.5" r="1.75"/><circle cx="330.5" cy="204" r="1.75"/><circle cx="331.5" cy="203.88" r="1.75"/><circle cx="332.5" cy="203.75" r="1.75"/><circle cx="333.5" cy="203.62" r="1.75"/><circle cx="334.5" cy="203.5" r="1.75"/><circle cx="335.5" cy="203.38" r="1.75"/><circle cx="336.5" cy="203.25" r="1.75"/><circle cx="337.5" cy="203.12" r="1.75"/><circle cx="338.5" cy="203" r="1.75"/><circle cx="349.5" cy="189" r="1.75"/><circle cx="350" cy="190.5" r="1.75"/><circle cx="376.77" cy="407.62" r="1.75"/><circle cx="378.69" cy="404.35" r="1.75"/><circle cx="380.62" cy="402.42" r="1.75"/><circle cx="382.54" cy="401.46" r="1.75"/><circle cx="384.46" cy="400.5" r="1.75"/><circle cx="386.38" cy="400.5" r="1.75"/><circle cx="387.35" cy="395.69" r="1.75"/><circle cx="388.31" cy="397.62" r="1.75"/><circle cx="389.85" cy="397.23" r="1.75"/><circle cx="508.35" cy="277.62" r="1.75"/><circle cx="481.81" cy="303" r="1.75"/><circle cx="462.77" cy="322.23" r="1.75"/><circle cx="461.62" cy="324.15" r="1.75"/><circle cx="443.27" cy="340.19" r="1.75"/><circle cx="445.96" cy="339.52" r="1.75"/><circle cx="435.87" cy="348.54" r="1.75"/><circle cx="427.79" cy="356.35" r="1.75"/><circle cx="426.44" cy="357.69" r="1.75"/><circle cx="425.1" cy="359.04" r="1.75"/><circle cx="423.75" cy="360.38" r="1.75"/><circle cx="422.4" cy="362.4" r="1.75"/><circle cx="417.69" cy="367.12" r="1.75"/><circle cx="411.23" cy="372.5" r="1.75"/><circle cx="407.6" cy="375.19" r="1.75"/><circle cx="406.92" cy="376.81" r="1.75"/><circle cx="404.9" cy="378.56" r="1.75"/><circle cx="396.83" cy="386.23" r="1.75"/><circle cx="395.48" cy="387.31" r="1.75"/><circle cx="392.79" cy="389.33" r="1.75"/><circle cx="374.04" cy="409.13" r="1.75"/><circle cx="375" cy="408.46" r="1.75"/><circle cx="368.75" cy="414.9" r="1.75"/><circle cx="330.77" cy="451.44" r="1.75"/><circle cx="331.73" cy="450.96" r="1.75"/><circle cx="329.81" cy="449.04" r="1.75"/><circle cx="330.61" cy="448.4" r="1.75"/><circle cx="331.41" cy="447.76" r="1.75"/><circle cx="332.21" cy="447.12" r="1.75"/><circle cx="333.01" cy="446.47" r="1.75"/><circle cx="333.81" cy="445.83" r="1.75"/><circle cx="334.62" cy="445.19" r="1.75"/><circle cx="335.42" cy="444.55" r="1.75"/><circle cx="336.22" cy="443.91" r="1.75"/><circle cx="337.02" cy="443.27" r="1.75"/><circle cx="337.82" cy="442.63" r="1.75"/><circle cx="338.62" cy="441.99" r="1.75"/><circle cx="339.42" cy="441.35" r="1.75"/><circle cx="340.22" cy="440.62" r="1.75"/><circle cx="341.03" cy="439.9" r="1.75"/><circle cx="341.83" cy="439.18" r="1.75"/><circle cx="342.63" cy="438.46" r="1.75"/><circle cx="343.43" cy="437.74" r="1.75"/><circle cx="344.23" cy="437.02" r="1.75"/><circle cx="345.03" cy="436.3" r="1.75"/><circle cx="345.83" cy="435.58" r="1.75"/><circle cx="346.63" cy="434.86" r="1.75"/><circle cx="347.44" cy="434.13" r="1.75"/><circle cx="348.24" cy="433.41" r="1.75"/><circle cx="349.04" cy="432.69" r="1.75"/><circle cx="349.84" cy="432.05" r="1.75"/><circle cx="350.64" cy="431.41" r="1.75"/><circle cx="351.44" cy="430.77" r="1.75"/><circle cx="352.24" cy="430.13" r="1.75"/><circle cx="353.04" cy="429.49" r="1.75"/><circle cx="353.85" cy="428.85" r="1.75"/><circle cx="354.62" cy="428.17" r="1.75"/><circle cx="355.38" cy="427.5" r="1.75"/><circle cx="356.15" cy="426.83" r="1.75"/><circle cx="356.92" cy="426.15" r="1.75"/><circle cx="357.69" cy="425.48" r="1.75"/><circle cx="358.33" cy="424.76" r="1.75"/><circle cx="358.97" cy="424.04" r="1.75"/><circle cx="359.62" cy="423.32" r="1.75"/><circle cx="360.26" cy="422.6" r="1.75"/><circle cx="360.9" cy="421.88" r="1.75"/><circle cx="361.54" cy="421.15" r="1.75"/><circle cx="362.31" cy="420.48" r="1.75"/><circle cx="363.08" cy="419.81" r="1.75"/><circle cx="363.85" cy="419.13" r="1.75"/><circle cx="364.62" cy="418.46" r="1.75"/><circle cx="365.38" cy="417.79" r="1.75"/><circle cx="366.11" cy="416.95" r="1.75"/><circle cx="366.83" cy="416.11" r="1.75"/><circle cx="367.55" cy="415.26" r="1.75"/><circle cx="368.27" cy="414.42" r="1.75"/><circle cx="331.25" cy="452.4" r="1.75"/><circle cx="331.97" cy="451.68" r="1.75"/><circle cx="332.69" cy="450.96" r="1.75"/><circle cx="333.41" cy="450.24" r="1.75"/><circle cx="334.13" cy="449.52" r="1.75"/><circle cx="334.86" cy="448.8" r="1.75"/><circle cx="335.58" cy="448.08" r="1.75"/><circle cx="336.38" cy="447.36" r="1.75"/><circle cx="337.18" cy="446.63" r="1.75"/><circle cx="337.98" cy="445.91" r="1.75"/><circle cx="338.78" cy="445.19" r="1.75"/><circle cx="339.58" cy="444.47" r="1.75"/><circle cx="340.38" cy="443.75" r="1.75"/><circle cx="341.19" cy="443.03" r="1.75"/><circle cx="341.99" cy="442.31" r="1.75"/><circle cx="342.79" cy="441.59" r="1.75"/><circle cx="343.59" cy="440.87" r="1.75"/><circle cx="344.39" cy="440.14" r="1.75"/><circle cx="345.19" cy="439.42" r="1.75"/><circle cx="345.99" cy="438.7" r="1.75"/><circle cx="346.79" cy="437.98" r="1.75"/><circle cx="347.6" cy="437.26" r="1.75"/><circle cx="348.4" cy="436.54" r="1.75"/><circle cx="349.2" cy="435.82" r="1.75"/><circle cx="350" cy="435.1" r="1.75"/><circle cx="350.8" cy="434.38" r="1.75"/><circle cx="351.6" cy="433.65" r="1.75"/><circle cx="352.4" cy="432.93" r="1.75"/><circle cx="353.21" cy="432.21" r="1.75"/><circle cx="354.01" cy="431.49" r="1.75"/><circle cx="354.81" cy="430.77" r="1.75"/><circle cx="355.58" cy="430" r="1.75"/><circle cx="356.35" cy="429.23" r="1.75"/><circle cx="357.12" cy="428.46" r="1.75"/><circle cx="357.88" cy="427.69" r="1.75"/><circle cx="358.65" cy="426.92" r="1.75"/><circle cx="359.42" cy="426.15" r="1.75"/><circle cx="360.19" cy="425.38" r="1.75"/><circle cx="360.96" cy="424.62" r="1.75"/><circle cx="361.73" cy="423.85" r="1.75"/><circle cx="362.5" cy="423.08" r="1.75"/><circle cx="363.27" cy="422.31" r="1.75"/><circle cx="364.04" cy="421.54" r="1.75"/><circle cx="364.81" cy="420.77" r="1.75"/><circle cx="365.58" cy="420" r="1.75"/><circle cx="366.35" cy="419.23" r="1.75"/><circle cx="366.95" cy="418.39" r="1.75"/><circle cx="367.55" cy="417.55" r="1.75"/><circle cx="368.15" cy="416.71" r="1.75"/><circle cx="368.75" cy="415.87" r="1.75"/><circle cx="329.33" cy="450" r="1.75"/><circle cx="329.45" cy="450.96" r="1.75"/><circle cx="329.57" cy="451.92" r="1.75"/><circle cx="329.69" cy="452.88" r="1.75"/><circle cx="329.81" cy="453.85" r="1.75"/><circle cx="330.61" cy="454.17" r="1.75"/><circle cx="331.41" cy="454.49" r="1.75"/><circle cx="332.21" cy="454.81" r="1.75"/><circle cx="508.35" cy="522.04" r="1.75"/><circle cx="485.27" cy="543.19" r="1.75"/><circle cx="478.54" cy="547.62" r="1.75"/><circle cx="470.85" cy="562.62" r="1.75"/><circle cx="461.23" cy="566.46" r="1.75"/><circle cx="451.23" cy="577.42" r="1.75"/><circle cx="450.08" cy="581.65" r="1.75"/><circle cx="448.15" cy="586.65" r="1.75"/><circle cx="450.65" cy="591.85" r="1.75"/><circle cx="454.88" cy="588.96" r="1.75"/><circle cx="446.81" cy="601.08" r="1.75"/><circle cx="434.69" cy="606.65" r="1.75"/><circle cx="430.85" cy="597.62" r="1.75"/><circle cx="429.33" cy="597.5" r="1.75"/><circle cx="421.25" cy="605.31" r="1.75"/><circle cx="420.58" cy="606.92" r="1.75"/><circle cx="419.9" cy="608.27" r="1.75"/><circle cx="417.21" cy="610.69" r="1.75"/><circle cx="415.19" cy="614.73" r="1.75"/><circle cx="403.75" cy="623.75" r="1.75"/><circle cx="403.08" cy="626.44" r="1.75"/><circle cx="401.06" cy="629.81" r="1.75"/><circle cx="399.71" cy="627.79" r="1.75"/><circle cx="398.37" cy="627.12" r="1.75"/><circle cx="397.02" cy="630.08" r="1.75"/><circle cx="394.33" cy="635.19" r="1.75"/><circle cx="393.65" cy="637.21" r="1.75"/><circle cx="386.92" cy="634.52" r="1.75"/><circle cx="387.6" cy="635.87" r="1.75"/><circle cx="377.54" cy="652.12" r="1.75"/><circle cx="378.88" cy="650.77" r="1.75"/><circle cx="380.23" cy="649.42" r="1.75"/><circle cx="382.25" cy="648.08" r="1.75"/><circle cx="382.92" cy="642.69" r="1.75"/><circle cx="384.94" cy="644.04" r="1.75"/><circle cx="385.62" cy="641.35" r="1.75"/><circle cx="386.96" cy="640.67" r="1.75"/><circle cx="388.31" cy="644.04" r="1.75"/><circle cx="389.65" cy="643.37" r="1.75"/><circle cx="377.54" cy="653.46" r="1.75"/><circle cx="349.08" cy="674.04" r="1.75"/><circle cx="355.81" cy="665.38" r="1.75"/><circle cx="359.17" cy="660.1" r="1.75"/><circle cx="360.62" cy="663.46" r="1.75"/><circle cx="365.9" cy="654.33" r="1.75"/><circle cx="373.12" cy="653.37" r="1.75"/><circle cx="373.6" cy="656.73" r="1.75"/><circle cx="373.12" cy="659.13" r="1.75"/><circle cx="366.38" cy="680.96" r="1.75"/><circle cx="357.73" cy="670.67" r="1.75"/><circle cx="353.4" cy="671.63" r="1.75"/><circle cx="362.54" cy="665.87" r="1.75"/><circle cx="350.28" cy="675.62" r="1.75"/><circle cx="351.48" cy="674.71" r="1.75"/><circle cx="352.68" cy="673.75" r="1.75"/><circle cx="353.88" cy="672.79" r="1.75"/><circle cx="355.09" cy="671.83" r="1.75"/><circle cx="356.29" cy="670.87" r="1.75"/><circle cx="357.49" cy="669.9" r="1.75"/><circle cx="358.69" cy="668.94" r="1.75"/><circle cx="359.89" cy="667.98" r="1.75"/><circle cx="361.1" cy="667.02" r="1.75"/><circle cx="362.54" cy="665.93" r="1.75"/><circle cx="363.98" cy="664.84" r="1.75"/><circle cx="365.42" cy="663.75" r="1.75"/><circle cx="366.77" cy="662.95" r="1.75"/><circle cx="368.12" cy="662.15" r="1.75"/><circle cx="369.46" cy="661.35" r="1.75"/><circle cx="352.92" cy="674.68" r="1.75"/><circle cx="354.85" cy="673.08" r="1.75"/><circle cx="345" cy="690.5" r="1.75"/><circle cx="348" cy="689.25" r="1.75"/><circle cx="336" cy="685.25" r="1.75"/><circle cx="337.5" cy="684.5" r="1.75"/><circle cx="339.5" cy="683" r="1.75"/><circle cx="341" cy="691" r="1.75"/><circle cx="329" cy="697" r="1.75"/><circle cx="332.25" cy="681" r="1.75"/><circle cx="333.29" cy="681.21" r="1.75"/><circle cx="334.33" cy="681.42" r="1.75"/><circle cx="335.38" cy="681.62" r="1.75"/><circle cx="336.42" cy="681.83" r="1.75"/><circle cx="337.46" cy="682.04" r="1.75"/><circle cx="338.5" cy="682.25" r="1.75"/><circle cx="330.5" cy="685" r="1.75"/><circle cx="330.56" cy="685.88" r="1.75"/><circle cx="330.62" cy="686.75" r="1.75"/><circle cx="330.69" cy="687.62" r="1.75"/><circle cx="330.75" cy="688.5" r="1.75"/><circle cx="331.5" cy="698" r="1.75"/><circle cx="332.1" cy="697.3" r="1.75"/><circle cx="332.7" cy="696.6" r="1.75"/><circle cx="333.3" cy="695.9" r="1.75"/><circle cx="333.9" cy="695.2" r="1.75"/><circle cx="334.5" cy="694.5" r="1.75"/><circle cx="335.1" cy="693.8" r="1.75"/><circle cx="335.7" cy="693.1" r="1.75"/><circle cx="336.3" cy="692.4" r="1.75"/><circle cx="336.9" cy="691.7" r="1.75"/><circle cx="337.5" cy="691" r="1.75"/><circle cx="338.1" cy="690.3" r="1.75"/><circle cx="338.7" cy="689.6" r="1.75"/><circle cx="339.3" cy="688.9" r="1.75"/><circle cx="339.9" cy="688.2" r="1.75"/><circle cx="340.5" cy="687.5" r="1.75"/><circle cx="341.1" cy="686.8" r="1.75"/><circle cx="341.7" cy="686.1" r="1.75"/><circle cx="342.3" cy="685.4" r="1.75"/><circle cx="342.9" cy="684.7" r="1.75"/><circle cx="343.5" cy="684" r="1.75"/><circle cx="344.25" cy="683.19" r="1.75"/><circle cx="345" cy="682.38" r="1.75"/><circle cx="345.75" cy="681.56" r="1.75"/><circle cx="346.5" cy="680.75" r="1.75"/><circle cx="347.25" cy="680" r="1.75"/><circle cx="348" cy="679.25" r="1.75"/><circle cx="348.75" cy="678.5" r="1.75"/><circle cx="349.5" cy="677.75" r="1.75"/><circle cx="350.33" cy="677.17" r="1.75"/><circle cx="351.17" cy="676.58" r="1.75"/><circle cx="352" cy="676" r="1.75"/><circle cx="333.5" cy="699" r="1.75"/><circle cx="334.5" cy="697.83" r="1.75"/><circle cx="335.5" cy="696.67" r="1.75"/><circle cx="336.5" cy="695.5" r="1.75"/><circle cx="337.5" cy="694.33" r="1.75"/><circle cx="338.5" cy="693.17" r="1.75"/><circle cx="339.5" cy="692" r="1.75"/><circle cx="340.5" cy="690.83" r="1.75"/><circle cx="341.5" cy="689.67" r="1.75"/><circle cx="342.5" cy="688.5" r="1.75"/><circle cx="343.5" cy="687.33" r="1.75"/><circle cx="344.5" cy="686.17" r="1.75"/><circle cx="345.5" cy="685" r="1.75"/><circle cx="329.75" cy="692.5" r="1.75"/><circle cx="329.79" cy="693.43" r="1.75"/><circle cx="329.82" cy="694.36" r="1.75"/><circle cx="329.86" cy="695.29" r="1.75"/><circle cx="329.89" cy="696.21" r="1.75"/><circle cx="329.93" cy="697.14" r="1.75"/><circle cx="329.96" cy="698.07" r="1.75"/><circle cx="330" cy="699" r="1.75"/><circle cx="332" cy="692" r="1.75"/><circle cx="332" cy="692.94" r="1.75"/><circle cx="332" cy="693.88" r="1.75"/><circle cx="332" cy="694.81" r="1.75"/><circle cx="332" cy="695.75" r="1.75"/><circle cx="332" cy="696.69" r="1.75"/><circle cx="332" cy="697.62" r="1.75"/><circle cx="332" cy="698.56" r="1.75"/><circle cx="332" cy="699.5" r="1.75"/><circle cx="334.25" cy="692.5" r="1.75"/><circle cx="334.46" cy="693.42" r="1.75"/><circle cx="334.67" cy="694.33" r="1.75"/><circle cx="334.88" cy="695.25" r="1.75"/><circle cx="335.08" cy="696.17" r="1.75"/><circle cx="335.29" cy="697.08" r="1.75"/><circle cx="335.5" cy="698" r="1.75"/><circle cx="338.5" cy="696" r="1.75"/><circle cx="339.33" cy="696.17" r="1.75"/><circle cx="340.17" cy="696.33" r="1.75"/><circle cx="341" cy="696.5" r="1.75"/><circle cx="342" cy="696.5" r="1.75"/><circle cx="343" cy="696.5" r="1.75"/><circle cx="344" cy="696.5" r="1.75"/><circle cx="345" cy="696.5" r="1.75"/><circle cx="346" cy="696.5" r="1.75"/><circle cx="508.35" cy="773.04" r="1.75"/><circle cx="490.46" cy="786.12" r="1.75"/><circle cx="494.5" cy="791.31" r="1.75"/><circle cx="481.62" cy="797.65" r="1.75"/><circle cx="463.15" cy="815.92" r="1.75"/><circle cx="441.04" cy="838.04" r="1.75"/><circle cx="438.08" cy="841.15" r="1.75"/><circle cx="428.85" cy="849.23" r="1.75"/><circle cx="423.65" cy="853.08" r="1.75"/><circle cx="422.69" cy="854.23" r="1.75"/><circle cx="421.73" cy="855.19" r="1.75"/><circle cx="418.85" cy="857.88" r="1.75"/><circle cx="412.12" cy="851.35" r="1.75"/><circle cx="406.35" cy="867.12" r="1.75"/><circle cx="405.38" cy="870.96" r="1.75"/><circle cx="399.62" cy="877.12" r="1.75"/><circle cx="393.85" cy="881.15" r="1.75"/><circle cx="391.92" cy="880.58" r="1.75"/><circle cx="390.96" cy="883.46" r="1.75"/><circle cx="392.88" cy="882.5" r="1.75"/><circle cx="386.15" cy="885.38" r="1.75"/><circle cx="382.31" cy="889.62" r="1.75"/><circle cx="353.31" cy="931.46" r="1.75"/><circle cx="357.35" cy="914.9" r="1.75"/><circle cx="360.04" cy="912.21" r="1.75"/><circle cx="361.38" cy="910.87" r="1.75"/><circle cx="368.12" cy="903.46" r="1.75"/><circle cx="370.13" cy="902.12" r="1.75"/><circle cx="370.81" cy="900.77" r="1.75"/><circle cx="371.48" cy="906.83" r="1.75"/><circle cx="372.15" cy="905.48" r="1.75"/><circle cx="369.46" cy="904.81" r="1.75"/><circle cx="376.19" cy="895.38" r="1.75"/><circle cx="377.54" cy="897.4" r="1.75"/><circle cx="378.88" cy="898.08" r="1.75"/><circle cx="380.23" cy="896.73" r="1.75"/><circle cx="382.92" cy="890.67" r="1.75"/><circle cx="384.94" cy="891.35" r="1.75"/><circle cx="351.58" cy="921.92" r="1.75"/><circle cx="352.35" cy="921.35" r="1.75"/><circle cx="353.12" cy="920.77" r="1.75"/><circle cx="353.88" cy="920.19" r="1.75"/><circle cx="354.65" cy="919.62" r="1.75"/><circle cx="355.27" cy="918.88" r="1.75"/><circle cx="355.88" cy="918.15" r="1.75"/><circle cx="356.49" cy="917.41" r="1.75"/><circle cx="357.1" cy="916.68" r="1.75"/><circle cx="357.71" cy="915.94" r="1.75"/><circle cx="358.33" cy="915.21" r="1.75"/><circle cx="358.94" cy="914.48" r="1.75"/><circle cx="359.55" cy="913.74" r="1.75"/><circle cx="360.16" cy="913.01" r="1.75"/><circle cx="360.77" cy="912.27" r="1.75"/><circle cx="361.38" cy="911.54" r="1.75"/><circle cx="362.19" cy="911" r="1.75"/><circle cx="363" cy="910.46" r="1.75"/><circle cx="363.81" cy="909.92" r="1.75"/><circle cx="364.62" cy="909.38" r="1.75"/><circle cx="365.42" cy="908.85" r="1.75"/><circle cx="341.5" cy="924" r="1.75"/><circle cx="332.5" cy="934.75" r="1.75"/><circle cx="336" cy="932.75" r="1.75"/><circle cx="338.5" cy="942" r="1.75"/><circle cx="333.5" cy="948" r="1.75"/><circle cx="335" cy="947.75" r="1.75"/><circle cx="332" cy="948.5" r="1.75"/><circle cx="330.25" cy="942" r="1.75"/><circle cx="330.92" cy="941.17" r="1.75"/><circle cx="331.58" cy="940.33" r="1.75"/><circle cx="332.25" cy="939.5" r="1.75"/><circle cx="332.92" cy="938.67" r="1.75"/><circle cx="333.58" cy="937.83" r="1.75"/><circle cx="334.25" cy="937" r="1.75"/><circle cx="334.92" cy="936.33" r="1.75"/><circle cx="335.58" cy="935.67" r="1.75"/><circle cx="336.25" cy="935" r="1.75"/><circle cx="336.92" cy="934.33" r="1.75"/><circle cx="337.58" cy="933.67" r="1.75"/><circle cx="338.25" cy="933" r="1.75"/><circle cx="338.92" cy="932.33" r="1.75"/><circle cx="339.58" cy="931.67" r="1.75"/><circle cx="340.25" cy="931" r="1.75"/><circle cx="340.92" cy="930.33" r="1.75"/><circle cx="341.58" cy="929.67" r="1.75"/><circle cx="342.25" cy="929" r="1.75"/><circle cx="343.05" cy="928.3" r="1.75"/><circle cx="343.85" cy="927.6" r="1.75"/><circle cx="344.65" cy="926.9" r="1.75"/><circle cx="345.45" cy="926.2" r="1.75"/><circle cx="346.25" cy="925.5" r="1.75"/><circle cx="347.05" cy="924.8" r="1.75"/><circle cx="347.85" cy="924.1" r="1.75"/><circle cx="348.65" cy="923.4" r="1.75"/><circle cx="349.45" cy="922.7" r="1.75"/><circle cx="350.25" cy="922" r="1.75"/><circle cx="331.75" cy="944" r="1.75"/><circle cx="332.42" cy="943.21" r="1.75"/><circle cx="333.08" cy="942.42" r="1.75"/><circle cx="333.75" cy="941.62" r="1.75"/><circle cx="334.42" cy="940.83" r="1.75"/><circle cx="335.08" cy="940.04" r="1.75"/><circle cx="335.75" cy="939.25" r="1.75"/><circle cx="336.42" cy="938.58" r="1.75"/><circle cx="337.08" cy="937.92" r="1.75"/><circle cx="337.75" cy="937.25" r="1.75"/><circle cx="338.42" cy="936.58" r="1.75"/><circle cx="339.08" cy="935.92" r="1.75"/><circle cx="339.75" cy="935.25" r="1.75"/><circle cx="340.42" cy="934.58" r="1.75"/><circle cx="341.08" cy="933.92" r="1.75"/><circle cx="341.75" cy="933.25" r="1.75"/><circle cx="342.42" cy="932.58" r="1.75"/><circle cx="343.08" cy="931.92" r="1.75"/><circle cx="343.75" cy="931.25" r="1.75"/><circle cx="344.55" cy="930.55" r="1.75"/><circle cx="345.35" cy="929.85" r="1.75"/><circle cx="346.15" cy="929.15" r="1.75"/><circle cx="346.95" cy="928.45" r="1.75"/><circle cx="347.75" cy="927.75" r="1.75"/><circle cx="348.55" cy="927.05" r="1.75"/><circle cx="349.35" cy="926.35" r="1.75"/><circle cx="350.15" cy="925.65" r="1.75"/><circle cx="350.95" cy="924.95" r="1.75"/><circle cx="351.75" cy="924.25" r="1.75"/><circle cx="329" cy="939.5" r="1.75"/><circle cx="329.1" cy="940.5" r="1.75"/><circle cx="329.2" cy="941.5" r="1.75"/><circle cx="329.3" cy="942.5" r="1.75"/><circle cx="329.4" cy="943.5" r="1.75"/><circle cx="329.5" cy="944.5" r="1.75"/><circle cx="330.25" cy="945.25" r="1.75"/><circle cx="331" cy="946" r="1.75"/><circle cx="331" cy="943" r="1.75"/><circle cx="331.93" cy="942.79" r="1.75"/><circle cx="332.86" cy="942.57" r="1.75"/><circle cx="333.79" cy="942.36" r="1.75"/><circle cx="334.71" cy="942.14" r="1.75"/><circle cx="335.64" cy="941.93" r="1.75"/><circle cx="336.57" cy="941.71" r="1.75"/><circle cx="337.5" cy="941.5" r="1.75"/></g><path d="M35 20.8H231.3V215.4H35ZM35 268.7H231.3V462.8H35ZM35 513.7H231.3V708.5H35ZM35 764.6H231.3V959.4H35ZM321 20.5H517.2V215.4H321ZM321 268.7H517.2V463.5H321ZM321 513.5H517.2V708.5H321ZM321 764.6H517.2V959.2H321Z" stroke="#2a2a2a" stroke-width="1.3" fill="none"/><path d="M39.5 215.4v2.6M74.2 215.4v2.6M108.9 215.4v2.6M143.6 215.4v2.6M178.3 215.4v2.6M213 215.4v2.6M35 202.6h-2.6M35 167.74h-2.6M35 132.88h-2.6M35 98.02h-2.6M35 63.16h-2.6M35 28.3h-2.6M35 462.8v2.6M61.9 462.8v2.6M88.8 462.8v2.6M115.7 462.8v2.6M142.6 462.8v2.6M169.5 462.8v2.6M196.4 462.8v2.6M223.3 462.8v2.6M35 462.2h-2.6M35 435.64h-2.6M35 409.08h-2.6M35 382.52h-2.6M35 355.96h-2.6M35 329.4h-2.6M35 302.84h-2.6M35 276.28h-2.6M39.2 708.5v2.6M65.03 708.5v2.6M90.86 708.5v2.6M116.69 708.5v2.6M142.52 708.5v2.6M168.35 708.5v2.6M194.18 708.5v2.6M220.01 708.5v2.6M35 699.7h-2.6M35 676.4h-2.6M35 653.1h-2.6M35 629.8h-2.6M35 606.5h-2.6M35 583.2h-2.6M35 559.9h-2.6M35 536.6h-2.6M35 513.3h-2.6M41 959.4v2.6M66.06 959.4v2.6M91.12 959.4v2.6M116.18 959.4v2.6M141.24 959.4v2.6M166.3 959.4v2.6M191.36 959.4v2.6M216.42 959.4v2.6M35 952.3h-2.6M35 929.15h-2.6M35 906h-2.6M35 882.85h-2.6M35 859.7h-2.6M35 836.55h-2.6M35 813.4h-2.6M35 790.25h-2.6M35 767.1h-2.6M329.6 215.4v2.6M359.6 215.4v2.6M389.6 215.4v2.6M419.6 215.4v2.6M449.6 215.4v2.6M479.6 215.4v2.6M509.6 215.4v2.6M321 204.9h-2.6M321 173.8h-2.6M321 142.7h-2.6M321 111.6h-2.6M321 80.5h-2.6M321 49.4h-2.6M330.3 463.5v2.6M366.24 463.5v2.6M402.18 463.5v2.6M438.12 463.5v2.6M474.06 463.5v2.6M510 463.5v2.6M321 452.6h-2.6M321 416.6h-2.6M321 380.6h-2.6M321 344.6h-2.6M321 308.6h-2.6M321 272.6h-2.6M330.5 708.5v2.6M354.5 708.5v2.6M378.5 708.5v2.6M402.5 708.5v2.6M426.5 708.5v2.6M450.5 708.5v2.6M474.5 708.5v2.6M498.5 708.5v2.6M321 698.8h-2.6M321 675.7h-2.6M321 652.6h-2.6M321 629.5h-2.6M321 606.4h-2.6M321 583.3h-2.6M321 560.2h-2.6M321 537.1h-2.6M321 514h-2.6M329.6 959.2v2.6M355.7 959.2v2.6M381.8 959.2v2.6M407.9 959.2v2.6M434 959.2v2.6M460.1 959.2v2.6M486.2 959.2v2.6M512.3 959.2v2.6M321 942.8h-2.6M321 917.73h-2.6M321 892.66h-2.6M321 867.59h-2.6M321 842.52h-2.6M321 817.45h-2.6M321 792.38h-2.6M321 767.31h-2.6" stroke="#2a2a2a" stroke-width="0.8" fill="none"/><text x="39.5" y="222.8" class="tk" text-anchor="middle">0.0</text>
<text x="74.2" y="222.8" class="tk" text-anchor="middle">0.5</text>
<text x="108.9" y="222.8" class="tk" text-anchor="middle">1.0</text>
<text x="143.6" y="222.8" class="tk" text-anchor="middle">1.5</text>
<text x="178.3" y="222.8" class="tk" text-anchor="middle">2.0</text>
<text x="213" y="222.8" class="tk" text-anchor="middle">2.5</text>
<text x="31.6" y="204.8" class="tk" text-anchor="end">0.0</text>
<text x="31.6" y="169.94" class="tk" text-anchor="end">0.5</text>
<text x="31.6" y="135.08" class="tk" text-anchor="end">1.0</text>
<text x="31.6" y="100.22" class="tk" text-anchor="end">1.5</text>
<text x="31.6" y="65.36" class="tk" text-anchor="end">2.0</text>
<text x="31.6" y="30.5" class="tk" text-anchor="end">2.5</text>
<text x="133.35" y="232.1" class="al" text-anchor="middle">CFD Pressure*</text>
<text transform="translate(20.6 120.1) rotate(-90)" class="al" text-anchor="middle">Reconstructed Pressure*</text>
<text x="132.95" y="246.6" class="sl" text-anchor="middle">(a)</text>
<text x="164.8" y="119.2" class="rl">R = 0.9908</text>
<text x="2.2" y="14" class="tt">Ma=2.4 PR=4</text>
<text x="35" y="470.2" class="tk" text-anchor="middle">0.5</text>
<text x="61.9" y="470.2" class="tk" text-anchor="middle">1.0</text>
<text x="88.8" y="470.2" class="tk" text-anchor="middle">1.5</text>
<text x="115.7" y="470.2" class="tk" text-anchor="middle">2.0</text>
<text x="142.6" y="470.2" class="tk" text-anchor="middle">2.5</text>
<text x="169.5" y="470.2" class="tk" text-anchor="middle">3.0</text>
<text x="196.4" y="470.2" class="tk" text-anchor="middle">3.5</text>
<text x="223.3" y="470.2" class="tk" text-anchor="middle">4.0</text>
<text x="31.6" y="464.4" class="tk" text-anchor="end">0.5</text>
<text x="31.6" y="437.84" class="tk" text-anchor="end">1.0</text>
<text x="31.6" y="411.28" class="tk" text-anchor="end">1.5</text>
<text x="31.6" y="384.72" class="tk" text-anchor="end">2.0</text>
<text x="31.6" y="358.16" class="tk" text-anchor="end">2.5</text>
<text x="31.6" y="331.6" class="tk" text-anchor="end">3.0</text>
<text x="31.6" y="305.04" class="tk" text-anchor="end">3.5</text>
<text x="31.6" y="278.48" class="tk" text-anchor="end">4.0</text>
<text x="133.35" y="479.5" class="al" text-anchor="middle">CFD Pressure*</text>
<text transform="translate(20.6 367.75) rotate(-90)" class="al" text-anchor="middle">Reconstructed Pressure*</text>
<text x="132.95" y="494" class="sl" text-anchor="middle">(b)</text>
<text x="164.8" y="367.3" class="rl">R = 0.9995</text>
<text x="9" y="257.3" class="tt">Ma=2.7 PR=6</text>
<text x="39.2" y="715.9" class="tk" text-anchor="middle">0.0</text>
<text x="65.03" y="715.9" class="tk" text-anchor="middle">0.2</text>
<text x="90.86" y="715.9" class="tk" text-anchor="middle">0.4</text>
<text x="116.69" y="715.9" class="tk" text-anchor="middle">0.6</text>
<text x="142.52" y="715.9" class="tk" text-anchor="middle">0.8</text>
<text x="168.35" y="715.9" class="tk" text-anchor="middle">1.0</text>
<text x="194.18" y="715.9" class="tk" text-anchor="middle">1.2</text>
<text x="220.01" y="715.9" class="tk" text-anchor="middle">1.4</text>
<text x="31.6" y="701.9" class="tk" text-anchor="end">0.0</text>
<text x="31.6" y="678.6" class="tk" text-anchor="end">0.2</text>
<text x="31.6" y="655.3" class="tk" text-anchor="end">0.4</text>
<text x="31.6" y="632" class="tk" text-anchor="end">0.6</text>
<text x="31.6" y="608.7" class="tk" text-anchor="end">0.8</text>
<text x="31.6" y="585.4" class="tk" text-anchor="end">1.0</text>
<text x="31.6" y="562.1" class="tk" text-anchor="end">1.2</text>
<text x="31.6" y="538.8" class="tk" text-anchor="end">1.4</text>
<text x="31.6" y="515.5" class="tk" text-anchor="end">1.6</text>
<text x="133.35" y="725.2" class="al" text-anchor="middle">CFD Pressure*</text>
<text transform="translate(20.6 613.1) rotate(-90)" class="al" text-anchor="middle">Reconstructed Pressure*</text>
<text x="132.95" y="739.7" class="sl" text-anchor="middle">(c)</text>
<text x="164.8" y="612.5" class="rl">R = 0.9848</text>
<text x="2" y="502" class="tt">Ma=2.8 PR=3</text>
<text x="41" y="966.8" class="tk" text-anchor="middle">0.6</text>
<text x="66.06" y="966.8" class="tk" text-anchor="middle">1.2</text>
<text x="91.12" y="966.8" class="tk" text-anchor="middle">1.8</text>
<text x="116.18" y="966.8" class="tk" text-anchor="middle">2.4</text>
<text x="141.24" y="966.8" class="tk" text-anchor="middle">3.0</text>
<text x="166.3" y="966.8" class="tk" text-anchor="middle">3.6</text>
<text x="191.36" y="966.8" class="tk" text-anchor="middle">4.2</text>
<text x="216.42" y="966.8" class="tk" text-anchor="middle">4.8</text>
<text x="31.6" y="954.5" class="tk" text-anchor="end">0.6</text>
<text x="31.6" y="931.35" class="tk" text-anchor="end">1.2</text>
<text x="31.6" y="908.2" class="tk" text-anchor="end">1.8</text>
<text x="31.6" y="885.05" class="tk" text-anchor="end">2.4</text>
<text x="31.6" y="861.9" class="tk" text-anchor="end">3.0</text>
<text x="31.6" y="838.75" class="tk" text-anchor="end">3.6</text>
<text x="31.6" y="815.6" class="tk" text-anchor="end">4.2</text>
<text x="31.6" y="792.45" class="tk" text-anchor="end">4.8</text>
<text x="31.6" y="769.3" class="tk" text-anchor="end">5.4</text>
<text x="133.35" y="976.1" class="al" text-anchor="middle">CFD Pressure*</text>
<text transform="translate(20.6 864) rotate(-90)" class="al" text-anchor="middle">Reconstructed Pressure*</text>
<text x="132.95" y="990.6" class="sl" text-anchor="middle">(d)</text>
<text x="164.8" y="863.2" class="rl">R = 0.9957</text>
<text x="2.2" y="754" class="tt">Ma=2.8 PR=4</text>
<text x="329.6" y="222.8" class="tk" text-anchor="middle">0</text>
<text x="359.6" y="222.8" class="tk" text-anchor="middle">5000</text>
<text x="389.6" y="222.8" class="tk" text-anchor="middle">10000</text>
<text x="419.6" y="222.8" class="tk" text-anchor="middle">15000</text>
<text x="449.6" y="222.8" class="tk" text-anchor="middle">20000</text>
<text x="479.6" y="222.8" class="tk" text-anchor="middle">25000</text>
<text x="509.6" y="222.8" class="tk" text-anchor="middle">30000</text>
<text x="317.6" y="207.1" class="tk" text-anchor="end">0</text>
<text x="317.6" y="176" class="tk" text-anchor="end">5000</text>
<text x="317.6" y="144.9" class="tk" text-anchor="end">10000</text>
<text x="317.6" y="113.8" class="tk" text-anchor="end">15000</text>
<text x="317.6" y="82.7" class="tk" text-anchor="end">20000</text>
<text x="317.6" y="51.6" class="tk" text-anchor="end">25000</text>
<text x="419.3" y="232.1" class="al" text-anchor="middle">CFD Density Gradient</text>
<text transform="translate(300.8 119.05) rotate(-90)" class="al" text-anchor="middle">Reconstructed Density Gradient</text>
<text x="422.4" y="246.6" class="sl" text-anchor="middle">(a*)</text>
<text x="451" y="119.2" class="rl">R = 0.9949</text>
<text x="330.3" y="470.9" class="tk" text-anchor="middle">0</text>
<text x="366.24" y="470.9" class="tk" text-anchor="middle">5000</text>
<text x="402.18" y="470.9" class="tk" text-anchor="middle">10000</text>
<text x="438.12" y="470.9" class="tk" text-anchor="middle">15000</text>
<text x="474.06" y="470.9" class="tk" text-anchor="middle">20000</text>
<text x="510" y="470.9" class="tk" text-anchor="middle">25000</text>
<text x="317.6" y="454.8" class="tk" text-anchor="end">0</text>
<text x="317.6" y="418.8" class="tk" text-anchor="end">5000</text>
<text x="317.6" y="382.8" class="tk" text-anchor="end">10000</text>
<text x="317.6" y="346.8" class="tk" text-anchor="end">15000</text>
<text x="317.6" y="310.8" class="tk" text-anchor="end">20000</text>
<text x="317.6" y="274.8" class="tk" text-anchor="end">25000</text>
<text x="419.3" y="480.2" class="al" text-anchor="middle">CFD Density Gradient</text>
<text transform="translate(300.8 367.2) rotate(-90)" class="al" text-anchor="middle">Reconstructed Density Gradient</text>
<text x="422.4" y="494.7" class="sl" text-anchor="middle">(b*)</text>
<text x="451" y="367.3" class="rl">R = 0.9994</text>
<text x="330.5" y="715.9" class="tk" text-anchor="middle">0</text>
<text x="354.5" y="715.9" class="tk" text-anchor="middle">2500</text>
<text x="378.5" y="715.9" class="tk" text-anchor="middle">5000</text>
<text x="402.5" y="715.9" class="tk" text-anchor="middle">7500</text>
<text x="426.5" y="715.9" class="tk" text-anchor="middle">10000</text>
<text x="450.5" y="715.9" class="tk" text-anchor="middle">12500</text>
<text x="474.5" y="715.9" class="tk" text-anchor="middle">15000</text>
<text x="498.5" y="715.9" class="tk" text-anchor="middle">17500</text>
<text x="317.6" y="701" class="tk" text-anchor="end">0</text>
<text x="317.6" y="677.9" class="tk" text-anchor="end">2500</text>
<text x="317.6" y="654.8" class="tk" text-anchor="end">5000</text>
<text x="317.6" y="631.7" class="tk" text-anchor="end">7500</text>
<text x="317.6" y="608.6" class="tk" text-anchor="end">10000</text>
<text x="317.6" y="585.5" class="tk" text-anchor="end">12500</text>
<text x="317.6" y="562.4" class="tk" text-anchor="end">15000</text>
<text x="317.6" y="539.3" class="tk" text-anchor="end">17500</text>
<text x="317.6" y="516.2" class="tk" text-anchor="end">20000</text>
<text x="419.3" y="725.2" class="al" text-anchor="middle">CFD Density Gradient</text>
<text transform="translate(300.8 612.1) rotate(-90)" class="al" text-anchor="middle">Reconstructed Density Gradient</text>
<text x="422.4" y="739.7" class="sl" text-anchor="middle">(c*)</text>
<text x="451" y="612.5" class="rl">R = 0.9943</text>
<text x="329.6" y="966.6" class="tk" text-anchor="middle">0</text>
<text x="355.7" y="966.6" class="tk" text-anchor="middle">3000</text>
<text x="381.8" y="966.6" class="tk" text-anchor="middle">6000</text>
<text x="407.9" y="966.6" class="tk" text-anchor="middle">9000</text>
<text x="434" y="966.6" class="tk" text-anchor="middle">12000</text>
<text x="460.1" y="966.6" class="tk" text-anchor="middle">15000</text>
<text x="486.2" y="966.6" class="tk" text-anchor="middle">18000</text>
<text x="512.3" y="966.6" class="tk" text-anchor="middle">21000</text>
<text x="317.6" y="945" class="tk" text-anchor="end">0</text>
<text x="317.6" y="919.93" class="tk" text-anchor="end">3000</text>
<text x="317.6" y="894.86" class="tk" text-anchor="end">6000</text>
<text x="317.6" y="869.79" class="tk" text-anchor="end">9000</text>
<text x="317.6" y="844.72" class="tk" text-anchor="end">12000</text>
<text x="317.6" y="819.65" class="tk" text-anchor="end">15000</text>
<text x="317.6" y="794.58" class="tk" text-anchor="end">18000</text>
<text x="317.6" y="769.51" class="tk" text-anchor="end">21000</text>
<text x="419.3" y="975.9" class="al" text-anchor="middle">CFD Density Gradient</text>
<text transform="translate(300.8 863) rotate(-90)" class="al" text-anchor="middle">Reconstructed Density Gradient</text>
<text x="422.4" y="990.4" class="sl" text-anchor="middle">(d*)</text>
<text x="451" y="863.2" class="rl">R = 0.9973</text></svg>
</body></html>
